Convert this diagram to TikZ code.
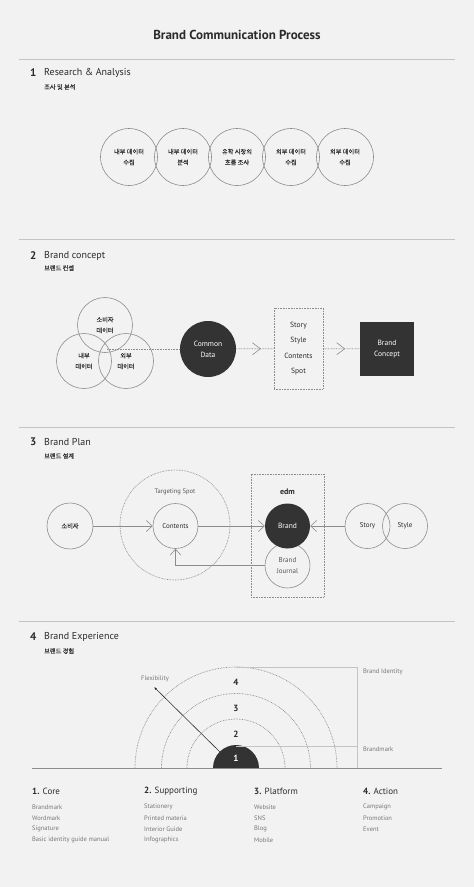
\documentclass[tikz,border=0pt]{standalone}
\usepackage{fontspec}
\setmainfont{PT Sans}
\newfontfamily\ko{Noto Sans CJK KR}[FakeBold=0.15]
\usetikzlibrary{arrows.meta,decorations.markings,calc}
\definecolor{bg}{HTML}{F2F2F2}
\definecolor{ink}{HTML}{2B2B2B}
\definecolor{darkfill}{HTML}{333333}
\definecolor{linec}{HTML}{8C8C8C}
\definecolor{sepc}{HTML}{C4C4C4}
\definecolor{itemc}{HTML}{777777}
\definecolor{midc}{HTML}{555555}
\tikzset{
  txt/.style={inner sep=0pt, text=ink},
  numtxt/.style={txt, anchor=west, font=\bfseries\fontsize{11}{13}\selectfont},
  headtxt/.style={txt, anchor=west, font=\fontsize{10}{12}\selectfont},
  kosub/.style={txt, anchor=west, font=\ko\fontsize{6.2}{8}\selectfont},
  circ/.style={circle, draw=linec, line width=0.6pt, inner sep=0pt, align=center, text=ink},
  kocirc/.style={circ, font=\ko\fontsize{6.2}{10.7}\selectfont},
  encirc/.style={circ, font=\fontsize{7}{10.5}\selectfont},
  darkcirc/.style={circle, fill=darkfill, inner sep=0pt, align=center, text=white, font=\fontsize{7.5}{11}\selectfont},
  dotl/.style={draw=linec, line width=0.7pt, dash pattern=on 0.7pt off 0.9pt},
  solidl/.style={draw=linec, line width=0.6pt},
  sepline/.style={draw=sepc, line width=0.9pt},
  chevend/.style={-{Straight Barb[length=6pt,width=11pt]}},
  midchev/.style={postaction={decorate}, decoration={markings, mark=at position #1 with {\arrow[linec, line width=0.6pt]{Straight Barb[length=8pt,width=12pt]}}}},
  coltitle/.style={txt, anchor=west, font=\fontsize{9}{11}\selectfont},
  item/.style={txt, anchor=west, text=itemc, font=\fontsize{6.5}{8}\selectfont},
  biglab/.style={txt, font=\bfseries\fontsize{9}{11}\selectfont},
}
\begin{document}
\begin{tikzpicture}[x=1pt,y=-1pt]
\fill[bg] (0,0) rectangle (474,887);
\useasboundingbox (0,0) rectangle (474,887);

% title
\node[txt, font=\bfseries\fontsize{13}{15}\selectfont] (title) at (237,35) {Brand Communication Process};

% separators
\draw[sepline] (19,59) -- (455,59);
\draw[sepline] (19,239) -- (455,239);
\draw[sepline] (19,427) -- (455,427);
\draw[sepline] (19,621) -- (455,621);

% ===== Section 1
\node[numtxt] (n1) at (30,73) {1};
\node[headtxt] (h1) at (44,73) {Research \& Analysis};
\node[kosub] (k1) at (44,87) {조사 및 분석};

\node[kocirc, minimum size=57] (c11) at (129,157) {내부 데이터\\수집};
\node[kocirc, minimum size=57] (c12) at (183,157) {내부 데이터\\분석};
\node[kocirc, minimum size=57] (c13) at (237,157) {유학 시장의\\흐름 조사};
\node[kocirc, minimum size=57] (c14) at (291,157) {외부 데이터\\수집};
\node[kocirc, minimum size=57] (c15) at (345,157) {외부 데이터\\수집};

% ===== Section 2
\node[numtxt] (n2) at (30,256) {2};
\node[headtxt] (h2) at (44,256) {Brand concept};
\node[kosub] (k2) at (44,268) {브랜드 컨셉};

\node[kocirc, minimum size=55] (v1) at (105,325) {소비자\\데이터};
\node[kocirc, minimum size=55] (v2) at (84,361) {내부\\데이터};
\node[kocirc, minimum size=55] (v3) at (126,361) {외부\\데이터};
\coordinate (vx) at (107,349);

\node[darkcirc, minimum size=56] (cd) at (208,349) {Common\\Data};
\node[dotl, minimum width=49, minimum height=81, inner sep=0pt, align=center, text=ink, font=\fontsize{7.5}{15.5}\selectfont] (sb) at (298.5,348.5) {Story\\Style\\Contents\\Spot};
\node[fill=darkfill, minimum width=54, minimum height=54, inner sep=0pt, align=center, text=white, font=\fontsize{7.5}{11}\selectfont] (bc) at (387,349) {Brand\\Concept};

\draw[dotl] (vx) -- (cd);
\draw[dotl, midchev=0.66] (cd) -- (sb);
\draw[dotl, midchev=0.6] (sb) -- (bc);

% ===== Section 3
\node[numtxt] (n3) at (30,442) {3};
\node[headtxt] (h3) at (44,442) {Brand Plan};
\node[kosub] (k3) at (44,456) {브랜드 설계};

\node[kocirc, minimum size=46] (sob) at (70,526) {소비자};
\node[circle, dotl, minimum size=110, inner sep=0pt] (ts) at (175,525) {};
\node[txt, text=midc, font=\fontsize{6.5}{8}\selectfont] (tsl) at (175,492) {Targeting Spot};
\node[encirc, minimum size=45] (cont) at (175.5,526) {Contents};

\node[dotl, minimum width=73, minimum height=123, inner sep=0pt] (edm) at (287.5,535.5) {};
\node[txt, font=\bfseries\fontsize{8}{10}\selectfont] (edml) at (287.5,492) {edm};
\node[encirc, minimum size=45, text=midc] (bj) at (287.5,565.5) {Brand\\Journal};
\node[darkcirc, minimum size=45] (brand) at (287.5,526) {Brand};

\node[encirc, minimum size=45] (story) at (367.5,526) {Story};
\node[encirc, minimum size=45] (style) at (405,526) {Style};

\draw[solidl, chevend] (sob) -- (cont);
\draw[solidl, chevend] (cont) -- (brand);
\draw[solidl, chevend] (story) -- (brand);
\draw[solidl, chevend] (bj.west) -| (cont.south);

% ===== Section 4
\node[numtxt] (n4) at (30,637) {4};
\node[headtxt] (h4) at (44,637) {Brand Experience};
\node[kosub] (k4) at (44,651) {브랜드 경험};

\coordinate (O) at (236,768);
\draw[dotl] ($(O)+(-101,0)$) arc[start angle=180, end angle=360, radius=101];
\draw[dotl] ($(O)+(-74.5,0)$) arc[start angle=180, end angle=360, radius=74.5];
\draw[dotl] ($(O)+(-49,0)$) arc[start angle=180, end angle=360, radius=49];
\fill[darkfill] ($(O)+(-23,0)$) arc[start angle=180, end angle=360, radius=23] -- cycle;

\coordinate (bitop) at (236,667);
\coordinate (bicorner) at (357,667);
\coordinate (bibase) at (357,768);
\coordinate (bmtop) at (236,746);
\coordinate (bmend) at (357,746);
\draw[draw=sepc, line width=0.6pt] (bitop) -- (bicorner) -- (bibase);
\draw[draw=sepc, line width=0.6pt] (bmtop) -- (bmend);
\draw[draw=linec, line width=0.6pt] (32,768) -- (442,768);

\node[biglab] (l4) at (236,682) {4};
\node[biglab] (l3) at (236,708) {3};
\node[biglab] (l2) at (236,734) {2};
\node[biglab, text=white] (l1) at (236,758) {1};

\node[item] (bil) at (363,672) {Brand Identity};
\node[item] (bml) at (363,749) {Brandmark};
\node[item] (flex) at (141,679) {Flexibility};
\coordinate (fs) at (220,752);
\coordinate (fe) at (154,687);
\draw[draw=darkfill, line width=0.6pt, -{Latex[length=3pt,width=2.5pt]}] (fs) -- (fe);

% ===== columns
\node[coltitle] (t1) at (32,791) {\textbf{1.} Core};
\node[coltitle] (t2) at (144,791) {\textbf{2.} Supporting};
\node[coltitle] (t3) at (254,791) {\textbf{3.} Platform};
\node[coltitle] (t4) at (363,791) {\textbf{4.} Action};

\node[item] (i11) at (32,807) {Brandmark};
\node[item] (i12) at (32,818) {Wordmark};
\node[item] (i13) at (32,829) {Signature};
\node[item] (i14) at (32,840) {Basic identity guide manual};

\node[item] (i21) at (144,807) {Stationery};
\node[item] (i22) at (144,818) {Printed materia};
\node[item] (i23) at (144,829) {Interior Guide};
\node[item] (i24) at (144,840) {Infographics};

\node[item] (i31) at (254,807) {Website};
\node[item] (i32) at (254,818) {SNS};
\node[item] (i33) at (254,829) {Blog};
\node[item] (i34) at (254,840) {Mobile};

\node[item] (i41) at (363,807) {Campaign};
\node[item] (i42) at (363,818) {Promotion};
\node[item] (i43) at (363,829) {Event};
\end{tikzpicture}
\end{document}
